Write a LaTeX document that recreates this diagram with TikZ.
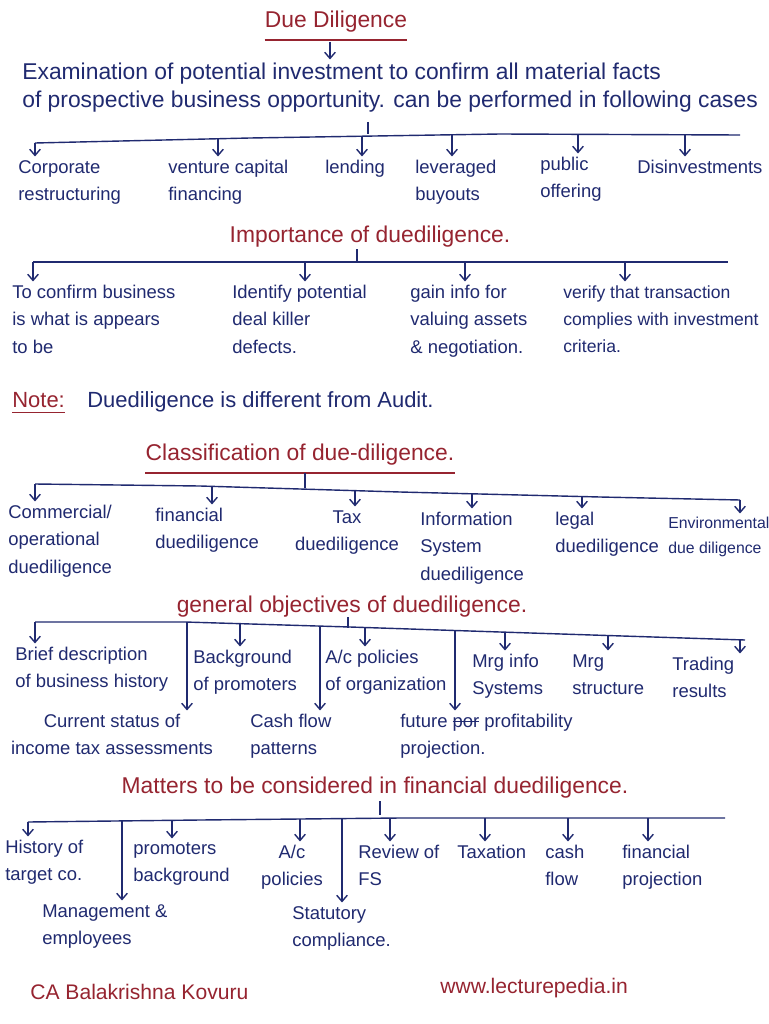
\documentclass[tikz,border=0pt]{standalone}
\usepackage{fontspec}
\setmainfont{Liberation Sans}
\usepackage{xcolor}
\usetikzlibrary{arrows.meta}

\definecolor{ink}{RGB}{32,42,112}
\definecolor{redink}{RGB}{150,36,48}
\newcommand\strikeword[1]{\setbox0\hbox{#1}\rlap{\rule[0.6ex]{\wd0}{0.6pt}}\copy0\relax}

\tikzset{
  lbl/.style={anchor=north west, align=left, inner sep=0pt, text=ink, font=\fontsize{10.5}{15.5}\selectfont},
  ttl/.style={inner sep=0pt, text=redink, font=\fontsize{13}{16}\selectfont},
  arr/.style={-{Straight Barb[length=3.5pt, width=6pt]}, draw=ink, line width=0.8pt, shorten >=2pt},
  brk/.style={draw=ink, line width=0.8pt},
}

\begin{document}
\begin{tikzpicture}[x=0.02cm, y=-0.02cm]
        \useasboundingbox[fill=white] (0,0) rectangle (768,1024);

        % Due Diligence
        \node[ttl] (dd) at (336,22) {Due Diligence};
        \draw[redink, line width=0.7pt] ([yshift=-4pt]dd.south west) -- ([yshift=-4pt]dd.south east);
        \node[lbl, anchor=west, font=\fontsize{13}{16}\selectfont] (ex1) at (22,74) {Examination of potential investment to confirm all material facts};
        \node[lbl, anchor=west, font=\fontsize{13}{16}\selectfont] (ex2) at (22,102) {of prospective business opportunity. can be performed in following cases};
        \coordinate (dda) at (330,42);
        \draw[arr] (dda) -- (dda |- ex1.north);

        % Cases
        \node[lbl] (cr) at (18,160) {Corporate\\restructuring};
        \node[lbl] (vc) at (168,160) {venture capital\\financing};
        \node[lbl] (ld) at (325,160) {lending};
        \node[lbl] (lb) at (415,160) {leveraged\\buyouts};
        \node[lbl] (po) at (540,157) {public\\offering};
        \node[lbl] (di) at (637,160) {Disinvestments};
        \draw[brk] (368,122) -- (368,134);
        \draw[brk] (35,143) -- (250,138) -- (500,134) -- (740,135);
        \coordinate (c1) at (35,143);
        \coordinate (c2) at (218,139);
        \coordinate (c3) at (362,137);
        \coordinate (c4) at (452,135);
        \coordinate (c5) at (578,134);
        \coordinate (c6) at (685,135);
        \draw[arr] (c1) -- (c1 |- cr.north);
        \draw[arr] (c2) -- (c2 |- vc.north);
        \draw[arr] (c3) -- (c3 |- ld.north);
        \draw[arr] (c4) -- (c4 |- lb.north);
        \draw[arr] (c5) -- (c5 |- po.north);
        \draw[arr] (c6) -- (c6 |- di.north);

        % Importance
        \node[ttl] (imp) at (370,237) {Importance of duediligence.};
        \node[lbl] (tc) at (12,285) {To confirm business\\is what is appears\\to be};
        \node[lbl] (ip) at (232,285) {Identify potential\\deal killer\\defects.};
        \node[lbl] (gi) at (410,285) {gain info for\\valuing assets\\\& negotiation.};
        \node[lbl, font=\fontsize{10}{15.5}\selectfont] (vt) at (563,285) {verify that transaction\\complies with investment\\criteria.};
        \draw[brk] (357,249) -- (357,262);
        \draw[brk] (33,262) -- (728,262);
        \coordinate (i1) at (33,262);
        \coordinate (i2) at (305,262);
        \coordinate (i3) at (465,262);
        \coordinate (i4) at (625,262);
        \draw[arr] (i1) -- (i1 |- tc.north);
        \draw[arr] (i2) -- (i2 |- ip.north);
        \draw[arr] (i3) -- (i3 |- gi.north);
        \draw[arr] (i4) -- (i4 |- vt.north);

        % Note
        \node[lbl, anchor=base west, text=redink, font=\fontsize{12.5}{15}\selectfont] (nt) at (12,407) {Note:};
        \draw[redink, line width=0.7pt] ([yshift=-3pt]nt.base west) -- ([yshift=-3pt]nt.base east);
        \node[lbl, anchor=base west, font=\fontsize{12.5}{15}\selectfont] (nd) at (87,407) {Duediligence is different from Audit.};

        % Classification
        \node[ttl] (cl) at (300,455) {Classification of due-diligence.};
        \draw[redink, line width=0.7pt] ([yshift=-4pt]cl.south west) -- ([yshift=-4pt]cl.south east);
        \node[lbl] (cm) at (8,505) {Commercial/\\operational\\duediligence};
        \node[lbl] (fd) at (155,508) {financial\\duediligence};
        \node[lbl, anchor=north, align=center] (td) at (347,510) {Tax\\duediligence};
        \node[lbl] (is) at (420,512) {Information\\System\\duediligence};
        \node[lbl] (lg) at (555,512) {legal\\duediligence};
        \node[lbl, font=\fontsize{9}{14}\selectfont] (ev) at (668,517) {Environmental\\due diligence};
        \draw[brk] (305,473) -- (305,488);
        \draw[brk] (35,484) -- (200,486) -- (400,492) -- (600,497) -- (740,500);
        \coordinate (d1) at (35,484);
        \coordinate (d2) at (212,486);
        \coordinate (d3) at (355,491);
        \coordinate (d4) at (472,494);
        \coordinate (d5) at (582,497);
        \coordinate (d6) at (740,500);
        \draw[arr] (d1) -- (d1 |- cm.north);
        \draw[arr] (d2) -- (d2 |- fd.north);
        \draw[arr] (d3) -- (d3 |- td.north);
        \draw[arr] (d4) -- (d4 |- is.north);
        \draw[arr] (d5) -- (d5 |- lg.north);
        \draw[arr] (d6) -- (d6 |- ev.north);

        % General objectives
        \node[ttl] (go) at (352,607) {general objectives of duediligence.};
        \node[lbl] (bd) at (15,647) {Brief description\\of business history};
        \node[lbl] (bp) at (193,650) {Background\\of promoters};
        \node[lbl] (ap) at (325,650) {A/c policies\\of organization};
        \node[lbl] (mi) at (472,654) {Mrg info\\Systems};
        \node[lbl] (ms) at (572,654) {Mrg\\structure};
        \node[lbl] (tr) at (672,657) {Trading\\results};
        \node[lbl, anchor=north, align=center] (cs) at (112,714) {Current status of\\income tax assessments};
        \node[lbl] (cf) at (250,714) {Cash flow\\patterns};
        \node[lbl] (fp) at (400,714) {future \strikeword{por} profitability\\projection.};
        \draw[brk] (348,617) -- (348,628);
        \draw[brk] (35,622) -- (185,622) -- (350,627) -- (500,632) -- (745,640);
        \coordinate (g1) at (35,622);
        \coordinate (g2) at (240,624);
        \coordinate (g3) at (365,628);
        \coordinate (g4) at (505,633);
        \coordinate (g5) at (608,636);
        \coordinate (g6) at (740,640);
        \coordinate (g7) at (187,622);
        \coordinate (g8) at (320,626);
        \coordinate (g9) at (455,631);
        \draw[arr] (g1) -- (g1 |- bd.north);
        \draw[arr] (g2) -- (g2 |- bp.north);
        \draw[arr] (g3) -- (g3 |- ap.north);
        \draw[arr] (g4) -- (g4 |- mi.north);
        \draw[arr] (g5) -- (g5 |- ms.north);
        \draw[arr] (g6) -- (g6 |- tr.north);
        \draw[arr] (g7) -- (g7 |- cs.north);
        \draw[arr] (g8) -- (g8 |- cf.north);
        \draw[arr] (g9) -- (g9 |- fp.north);

        % Financial due diligence
        \node[ttl] (mt) at (375,788) {Matters to be considered in financial duediligence.};
        \node[lbl] (ht) at (5,840) {History of\\target co.};
        \node[lbl] (pb) at (133,842) {promoters\\background};
        \node[lbl, anchor=north, align=center] (ac) at (292,845) {A/c\\policies};
        \node[lbl] (rf) at (358,845) {Review of\\FS};
        \node[lbl] (tx) at (457,845) {Taxation};
        \node[lbl] (cw) at (545,845) {cash\\flow};
        \node[lbl] (fj) at (622,845) {financial\\projection};
        \node[lbl] (me) at (42,904) {Management \&\\employees};
        \node[lbl] (sc) at (292,906) {Statutory\\compliance.};
        \draw[brk] (380,801) -- (380,815);
        \draw[brk] (28,822) -- (200,820) -- (400,818) -- (725,818);
        \coordinate (f1) at (28,822);
        \coordinate (f2) at (172,820);
        \coordinate (f3) at (300,819);
        \coordinate (f4) at (390,818);
        \coordinate (f5) at (485,818);
        \coordinate (f6) at (568,818);
        \coordinate (f7) at (648,818);
        \coordinate (f8) at (122,821);
        \coordinate (f9) at (342,819);
        \draw[arr] (f1) -- (f1 |- ht.north);
        \draw[arr] (f2) -- (f2 |- pb.north);
        \draw[arr] (f3) -- (f3 |- ac.north);
        \draw[arr] (f4) -- (f4 |- rf.north);
        \draw[arr] (f5) -- (f5 |- tx.north);
        \draw[arr] (f6) -- (f6 |- cw.north);
        \draw[arr] (f7) -- (f7 |- fj.north);
        \draw[arr] (f8) -- (f8 |- me.north);
        \draw[arr] (f9) -- (f9 |- sc.north);

        % Footer
        \node[lbl, anchor=west, text=redink, font=\fontsize{12}{14}\selectfont] (au) at (30,992) {CA Balakrishna Kovuru};
        \node[lbl, anchor=west, text=redink, font=\fontsize{12}{14}\selectfont] (web) at (440,988) {www.lecturepedia.in};
    \end{tikzpicture}
\end{document}
